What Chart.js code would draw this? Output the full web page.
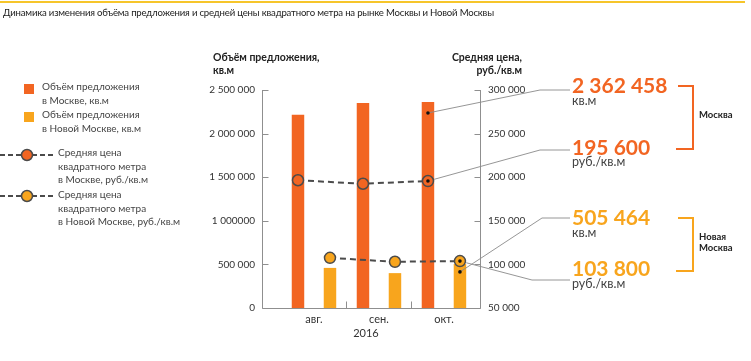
<!DOCTYPE html>
<html><head><meta charset="utf-8">
<script src="https://cdn.jsdelivr.net/npm/chart.js@4.4.1/dist/chart.umd.min.js"></script>
<style>
html,body{margin:0;padding:0;background:#fff;}
#wrap{position:relative;width:751px;height:361px;overflow:hidden;font-family:Lato,"Open Sans",sans-serif;color:#333;}
#c{position:absolute;left:0;top:0;}
.t{position:absolute;white-space:nowrap;line-height:1;}
.b{position:absolute;}
</style></head>
<body>
<div id="wrap">
<canvas id="c" width="751" height="361"></canvas>
</div>
<script>
// ---- data ----
const categories = ['авг.', 'сен.', 'окт.'];
const yearLabel = '2016';
const moscowVolume = [2215000, 2350000, 2362458];
const newMoscowVolume = [460000, 400000, 505464];
const moscowPrice = [196500, 192500, 195600];
const newMoscowPrice = [107500, 103000, 103800];
const leftTicks = [0, 500000, 1000000, 1500000, 2000000, 2500000];
const leftTickLabels = ['0', '500 000', '1 000000', '1 500 000', '2 000 000', '2 500 000'];
const rightTicks = [50000, 100000, 150000, 200000, 250000, 300000];
const rightTickLabels = ['50 000', '100 000', '150 000', '200 000', '250 000', '300 000'];

const C_MOS = '#f26522', C_NM = '#f8a51d', C_LINE = '#4b4b4b', C_AX = '#8f8f8f';
const fmt = n => String(n).replace(/\B(?=(\d{3})+(?!\d))/g, ' ');
const catIdx = categories.map((_, i) => i);
const last = categories.length - 1;

// ---- html texts ----
const wrap = document.getElementById('wrap');
function txt(s, x, base, size, opt = {}) {
  const d = document.createElement('div');
  d.className = 't';
  d.textContent = s;
  d.style.fontSize = size + 'px';
  d.style.top = (base - 0.887 * size) + 'px';
  if (opt.right) d.style.right = (751 - x) + 'px'; else d.style.left = x + 'px';
  if (opt.center) { d.style.left = x + 'px'; d.style.transform = 'translateX(-50%)'; }
  if (opt.ls) d.style.letterSpacing = opt.ls + 'px';
  d.style.fontWeight = opt.bold ? '700' : '400';
  d.style.color = opt.color || '#333';
  wrap.appendChild(d);
  return d;
}
function box(x, y, w, h, color) {
  const d = document.createElement('div');
  d.className = 'b';
  Object.assign(d.style, {left: x + 'px', top: y + 'px', width: w + 'px', height: h + 'px', background: color});
  wrap.appendChild(d);
}
box(0, 1, 745, 2, '#f6c52a');
txt('Динамика изменения объёма предложения и средней цены квадратного метра на рынке Москвы и Новой Москвы', 3, 17, 9.6, {color: '#222', ls: -0.2});
txt('Объём предложения,', 213, 61.5, 10.5, {bold: true, color: '#222'});
txt('кв.м', 213, 74, 10.5, {bold: true, color: '#222'});
txt('Средняя цена,', 522, 61.5, 10.5, {bold: true, color: '#222', right: true});
txt('руб./кв.м', 522, 74, 10.5, {bold: true, color: '#222', right: true});

// legend
box(24, 84, 10, 10, C_MOS);
txt('Объём предложения', 42, 90, 10, {color: '#444'});
txt('в Москве, кв.м', 42, 103.5, 10, {color: '#444'});
box(24, 112, 10, 10, C_NM);
txt('Объём предложения', 42, 118, 10, {color: '#444'});
txt('в Новой Москве, кв.м', 42, 132, 10, {color: '#444'});
function legLine(cy, fill) {
  const ns = 'http://www.w3.org/2000/svg';
  const svg = document.createElementNS(ns, 'svg');
  svg.setAttribute('width', '54'); svg.setAttribute('height', '14');
  svg.style.position = 'absolute'; svg.style.left = '0px'; svg.style.top = (cy - 7) + 'px';
  svg.innerHTML = '<line x1="0" y1="7" x2="54" y2="7" stroke="' + C_LINE + '" stroke-width="2" stroke-dasharray="5,3"/>' +
    '<circle cx="27" cy="7" r="5.5" fill="' + fill + '" stroke="' + C_LINE + '" stroke-width="1.5"/>';
  wrap.appendChild(svg);
}
legLine(155, C_MOS);
txt('Средняя цена', 58, 156, 10, {color: '#444'});
txt('квадратного метра', 58, 169.5, 10, {color: '#444'});
txt('в Москве, руб./кв.м', 58, 183, 10, {color: '#444'});
legLine(196, C_NM);
txt('Средняя цена', 58, 198, 10, {color: '#444'});
txt('квадратного метра', 58, 211.5, 10, {color: '#444'});
txt('в Новой Москве, руб./кв.м', 58, 225, 10, {color: '#444'});

// callouts
txt(fmt(moscowVolume[last]), 572, 93, 21, {bold: true, color: C_MOS});
txt('кв.м', 572, 106, 12.5, {color: '#444'});
txt(fmt(moscowPrice[last]), 572, 154.5, 21, {bold: true, color: C_MOS});
txt('руб./кв.м', 572, 167.5, 12.5, {color: '#444'});
txt(fmt(newMoscowVolume[last]), 572, 224.5, 21, {bold: true, color: C_NM});
txt('кв.м', 572, 238.5, 12.5, {color: '#444'});
txt(fmt(newMoscowPrice[last]), 572, 276, 21, {bold: true, color: C_NM});
txt('руб./кв.м', 572, 289.5, 12.5, {color: '#444'});
// brackets
box(678, 85, 16, 2, C_MOS); box(692, 85, 2, 65, C_MOS); box(676, 148, 18, 2, C_MOS);
box(678, 217, 16, 2, C_NM); box(692, 217, 2, 55, C_NM); box(676, 270, 18, 2, C_NM);
txt('Москва', 699, 118, 9.5, {bold: true, color: '#222'});
txt('Новая', 699, 240, 9.5, {bold: true, color: '#222'});
txt('Москва', 699, 251.5, 9.5, {bold: true, color: '#222'});
txt(yearLabel, 366, 337, 11, {center: true, color: '#333'});

// ---- plugins ----
const alignPlugin = {
  id: 'alignToBars',
  afterDatasetsUpdate(chart) {
    chart.data.datasets.forEach((ds, i) => {
      if (ds.alignTo === undefined) return;
      const pts = chart.getDatasetMeta(i).data;
      const bars = chart.getDatasetMeta(ds.alignTo).data;
      pts.forEach((p, k) => { p.x = bars[k].x; });
    });
  }
};
const axesPlugin = {
  id: 'axesDraw',
  beforeDatasetsDraw(chart) {
    const {ctx, chartArea: a, scales} = chart;
    ctx.save();
    ctx.strokeStyle = C_AX; ctx.lineWidth = 1;
    ctx.beginPath();
    const L = Math.round(a.left) + 0.5, R = Math.round(a.right) - 0.5, B = Math.round(a.bottom) + 0.5;
    ctx.moveTo(L, a.top); ctx.lineTo(L, B); ctx.lineTo(R, B); ctx.lineTo(R, a.top);
    scales.y.ticks.forEach(t => { const py = Math.round(scales.y.getPixelForValue(t.value)) + 0.5; ctx.moveTo(L, py); ctx.lineTo(L + 6, py); });
    scales.y2.ticks.forEach(t => { const py = Math.round(scales.y2.getPixelForValue(t.value)) + 0.5; ctx.moveTo(R, py); ctx.lineTo(R - 6, py); });
    for (let i = 0; i < last; i++) {
      const px = Math.round(scales.x.getPixelForValue(i + 0.5)) + 0.5;
      ctx.moveTo(px, B); ctx.lineTo(px, B - 7);
    }
    ctx.stroke();
    ctx.restore();
  }
};
const calloutPlugin = {
  id: 'callouts',
  afterDatasetsDraw(chart) {
    const ctx = chart.ctx;
    const mb = chart.getDatasetMeta(0).data[last];
    const nb = chart.getDatasetMeta(1).data[last];
    const mp = chart.getDatasetMeta(2).data[last];
    const np = chart.getDatasetMeta(3).data[last];
    const items = [
      {ax: mb.x, ay: mb.y + 11, r: 0, ex: 540, ey: 90},
      {ax: mp.x, ay: mp.y, r: 6.5, ex: 540, ey: 150},
      {ax: nb.x, ay: nb.y + 8, r: 0, ex: 542, ey: 218},
      {ax: np.x, ay: np.y, r: 6.5, ex: 532, ey: 280}
    ];
    ctx.save();
    ctx.strokeStyle = '#8a8a8a'; ctx.lineWidth = 0.9;
    items.forEach(it => {
      const dx = it.ex - it.ax, dy = it.ey - it.ay, d = Math.hypot(dx, dy);
      ctx.beginPath();
      ctx.moveTo(it.ax + dx / d * it.r, it.ay + dy / d * it.r);
      ctx.lineTo(it.ex, it.ey); ctx.lineTo(570, it.ey);
      ctx.stroke();
    });
    ctx.fillStyle = '#111';
    items.forEach(it => { ctx.beginPath(); ctx.arc(it.ax, it.ay, 1.8, 0, Math.PI * 2); ctx.fill(); });
    ctx.restore();
  }
};

const tickFont = {family: 'Lato', size: 10};
new Chart(document.getElementById('c'), {
  type: 'bar',
  data: {
    labels: catIdx,
    datasets: [
      {label: 'Объём предложения в Москве, кв.м', data: moscowVolume, backgroundColor: C_MOS, yAxisID: 'y', order: 2,
        categoryPercentage: 64 / 65, barPercentage: 0.39},
      {label: 'Объём предложения в Новой Москве, кв.м', data: newMoscowVolume, backgroundColor: C_NM, yAxisID: 'y', order: 2,
        categoryPercentage: 64 / 65, barPercentage: 0.39},
      {type: 'line', label: 'Средняя цена квадратного метра в Москве, руб./кв.м', data: moscowPrice, alignTo: 0, yAxisID: 'y2', order: 0,
        borderColor: C_LINE, borderWidth: 2, borderDash: [6, 4], pointRadius: 5.5, pointBorderWidth: 1.5,
        pointBackgroundColor: C_MOS, pointBorderColor: C_LINE, fill: false, tension: 0, clip: false},
      {type: 'line', label: 'Средняя цена квадратного метра в Новой Москве, руб./кв.м', data: newMoscowPrice, alignTo: 1, yAxisID: 'y2', order: 0,
        borderColor: C_LINE, borderWidth: 2, borderDash: [6, 4], pointRadius: 5.5, pointBorderWidth: 1.5,
        pointBackgroundColor: C_NM, pointBorderColor: C_LINE, fill: false, tension: 0, clip: false}
    ]
  },
  options: {
    responsive: false, animation: false, devicePixelRatio: 1,
    layout: {padding: {top: 90, left: 0, right: 0, bottom: 0}},
    plugins: {legend: {display: false}, tooltip: {enabled: false}},
    scales: {
      x: {
        type: 'linear', offset: false, min: -0.8, max: last + 0.57,
        grid: {display: false, drawTicks: false}, border: {display: false},
        afterBuildTicks: s => { s.ticks = catIdx.map(v => ({value: v})); },
        afterFit: s => { s.height = 53; },
        ticks: {padding: 5, font: {family: 'Lato', size: 11}, color: '#333', maxRotation: 0, autoSkip: false,
          callback: v => categories[v] ?? ''}
      },
      y: {
        position: 'left', min: 0, max: 2500000,
        grid: {display: false, drawTicks: false}, border: {display: false},
        afterBuildTicks: s => { s.ticks = leftTicks.map(v => ({value: v})); },
        afterFit: s => { s.width = 262; },
        ticks: {padding: 7, font: tickFont, color: '#333', callback: v => leftTickLabels[leftTicks.indexOf(v)]}
      },
      y2: {
        position: 'right', min: 50000, max: 300000,
        grid: {display: false, drawTicks: false}, border: {display: false},
        afterBuildTicks: s => { s.ticks = rightTicks.map(v => ({value: v})); },
        afterFit: s => { s.width = 270; },
        ticks: {padding: 7, font: tickFont, color: '#333', callback: v => rightTickLabels[rightTicks.indexOf(v)]}
      }
    }
  },
  plugins: [alignPlugin, axesPlugin, calloutPlugin]
});
</script>
</body></html>
